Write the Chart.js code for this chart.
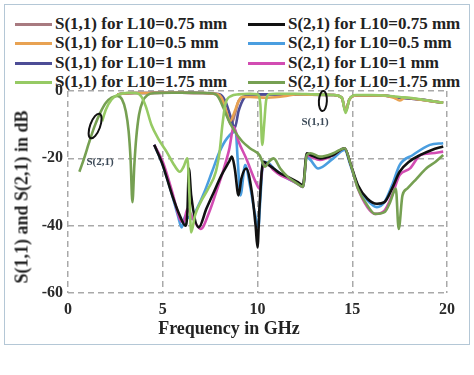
<!DOCTYPE html>
<html>
<head>
<meta charset="utf-8">
<script src="https://cdn.jsdelivr.net/npm/chart.js@4.4.1/dist/chart.umd.min.js"></script>
<style>
  html, body { margin:0; padding:0; background:#fff; }
  #wrap { position:relative; width:474px; height:375px; background:#fff; overflow:hidden;
          font-family:"Liberation Serif","Times New Roman",serif; font-weight:bold; color:#222; }
  #frame { position:absolute; left:4px; top:4px; width:464px; height:339px; border:1.5px solid #b4c7d6; }
  #legend { position:absolute; left:0; top:0; width:474px; height:95px; }
  .lg-item { position:absolute; height:20px; font-size:17px; line-height:20px; white-space:nowrap; }
  .lg-line { position:absolute; top:9px; width:37px; height:3px; }
  .lg-text { position:absolute; top:0; }
  #c { position:absolute; left:0; top:0; }
  .title { position:absolute; font-size:18px; white-space:nowrap; }
  .note { position:absolute; font-size:11px; color:#3c4a58; white-space:nowrap; }
</style>
</head>
<body>
<div id="wrap">
  <div id="frame"></div>
  <div id="legend"></div>
  <canvas id="c" width="474" height="375"></canvas>
  <div class="title" style="left:229px;top:318px;transform:translateX(-50%)">Frequency in GHz</div>
  <div class="title" style="left:22px;top:197px;transform:translate(-50%,-50%) rotate(-90deg)">S(1,1) and S(2,1) in dB</div>
  <div class="note" style="left:100px;top:161px;transform:translate(-50%,-50%)">S(2,1)</div>
  <div class="note" style="left:315px;top:121px;transform:translate(-50%,-50%)">S(1,1)</div>
</div>
<script>
'use strict';
// ── S-parameters vs frequency for several L10 values ──────────────

const xTicks = [0, 5, 10, 15, 20];
const yTicks = [0, -20, -40, -60];

// S(1,1), L10 = 1.75 mm
const s11_175_f  = [1.8, 2.0, 2.3, 2.6, 2.9, 3.2, 3.6, 3.85, 4.1, 4.4, 4.8, 5.2, 5.6, 5.9, 6.1, 6.3, 6.4, 6.5, 6.7, 7.0, 7.4, 7.8, 8.0, 8.15, 8.3, 8.6, 9.0, 9.6, 10.0, 10.15, 10.25, 10.35, 10.45, 10.6, 11.0, 12.0, 13.0, 14.0, 14.45, 14.65, 14.85, 15.2, 16.0, 17.0, 17.5, 18.0, 19.0, 19.8];
const s11_175_db = [-9, -5.5, -2.5, -1.2, -0.7, -0.5, -0.6, -1.5, -4.5, -10, -14.5, -18, -22, -24, -22.5, -20, -30, -42, -37, -33, -29, -24, -18, -10, -4, -1.5, -1, -0.8, -1, -4, -16, -10, -3, -1, -0.8, -0.8, -1, -1.2, -2, -6.5, -2.5, -1.2, -1.2, -1.5, -1.8, -2, -2.8, -3.5];

// S(2,1), L10 = 1.75 mm
const s21_175_f  = [0.6, 0.85, 1.1, 1.4, 1.7, 2.0, 2.3, 2.6, 2.85, 3.05, 3.2, 3.3, 3.4, 3.5, 3.6, 3.75, 3.95, 4.2, 4.6, 5.5, 6.5, 7.3, 7.8, 8.0, 8.2, 8.5, 8.8, 9.2, 9.6, 10.1, 10.4, 10.6, 10.85, 11.2, 11.6, 12.1, 12.4, 12.6, 12.8, 13.3, 14.0, 14.6, 14.9, 15.3, 15.8, 16.2, 16.7, 17.0, 17.3, 17.45, 17.65, 17.9, 18.4, 18.9, 19.4, 19.8];
const s21_175_db = [-24, -20, -15.5, -10.5, -6.5, -3.5, -2, -1.5, -2.5, -6, -12, -20, -33, -22, -14, -7, -3, -1.2, -0.6, -0.5, -0.5, -0.6, -1, -2.5, -5, -9, -12, -15, -17, -19, -22.5, -21, -20, -23, -25.5, -27.5, -28.5, -19, -18.5, -19.5, -18.5, -17, -21.5, -29, -34, -36.5, -36, -33, -29, -41, -31, -29, -26, -23, -21, -19];

// S(2,1), L10 = 0.75 mm
const s21_075_f  = [4.55, 5.0, 5.5, 5.9, 6.2, 6.3, 6.38, 6.5, 6.9, 7.3, 7.7, 8.1, 8.5, 8.65, 8.8, 9.0, 9.15, 9.4, 9.7, 9.9, 10.0, 10.1, 10.3, 10.6, 10.85, 11.2, 11.6, 12.1, 12.4, 12.6, 12.8, 13.3, 14.0, 14.6, 14.9, 15.3, 15.8, 16.3, 16.7, 17.1, 17.5, 18.0, 18.6, 19.2, 19.8];
const s21_075_db = [-16, -22, -31, -37, -40, -36, -23, -31, -40.5, -35, -30, -25, -21, -19.5, -23, -31, -26, -23, -30, -40, -46.5, -35, -21, -22, -23, -24.5, -25.5, -27, -28, -18.5, -19, -20, -19, -17, -21.5, -28, -32, -33.5, -33, -29, -24, -21, -19, -17.5, -16.5];

// S(2,1), L10 = 0.5 mm
const s21_05_f  = [4.55, 5.0, 5.5, 5.8, 6.0, 6.2, 6.5, 6.8, 7.2, 7.6, 8.0, 8.4, 8.85, 8.95, 9.1, 9.35, 9.6, 9.85, 10.05, 10.15, 10.3, 10.6, 10.85, 11.2, 11.6, 12.1, 12.4, 12.6, 12.8, 13.2, 14.0, 14.6, 14.9, 15.3, 15.8, 16.3, 16.7, 17.1, 17.5, 18.2, 19.1, 19.8];
const s21_05_db = [-16, -22, -31, -37, -40.5, -37, -38, -35, -30, -24, -18, -14, -12, -20, -31, -22, -28, -36, -40.5, -32, -21, -21.5, -23, -24.5, -26, -27.5, -28.5, -19.5, -20.5, -23, -20, -17.5, -22, -28.5, -32.5, -34.5, -33, -28, -22, -19, -16, -15.5];

// S(2,1), L10 = 1 mm
const s21_1_f  = [4.55, 5.0, 5.5, 5.9, 6.1, 6.3, 6.6, 7.0, 7.45, 7.85, 8.2, 8.5, 8.75, 9.0, 9.4, 9.9, 10.1, 10.3, 10.6, 10.85, 11.2, 11.6, 12.1, 12.4, 12.6, 12.8, 13.3, 14.0, 14.6, 14.9, 15.3, 15.8, 16.2, 16.7, 17.1, 17.5, 18.05, 18.6, 19.2, 19.8];
const s21_1_db = [-16, -21, -30, -38, -39, -35, -38, -41, -36, -29.5, -23.5, -17.5, -10.7, -15, -20, -27, -29, -22, -22, -23.5, -25, -26, -27.5, -28.5, -19, -19.5, -20.5, -19, -17, -21.5, -29, -34.5, -36.5, -35.5, -31, -25, -23, -19, -18.5, -18];

// S(1,1), L10 = 0.75 mm
const s11_075_f  = [2.6, 3.0, 3.5, 4.0, 5.0, 6.0, 7.0, 7.8, 8.1, 8.4, 8.6, 8.8, 9.0, 9.3, 9.6, 10.5, 12, 14, 14.45, 14.65, 14.85, 15.2, 16.5, 17.5, 18.5, 19.8];
const s11_075_db = [-1, -0.7, -0.6, -0.6, -0.5, -0.5, -0.6, -1, -3, -7, -10, -7, -3, -1.5, -1, -1, -1, -1.2, -2, -6, -2.5, -1.3, -1.3, -2, -2.5, -3.5];

// S(1,1), L10 = 0.5 mm
const s11_05_f  = [2.6, 3.0, 3.5, 4.0, 5.0, 6.0, 7.0, 7.9, 8.1, 8.3, 8.55, 8.8, 9.0, 9.2, 9.6, 10.5, 11.5, 12, 14, 14.45, 14.65, 14.85, 15.2, 16.5, 17.2, 17.5, 17.8, 18.5, 19.8];
const s11_05_db = [-1, -0.7, -0.6, -0.6, -0.5, -0.5, -0.6, -1, -2, -5, -9, -6, -3, -1.8, -1.8, -2, -1.5, -1, -1.2, -2, -6, -2.5, -1.3, -1.3, -2, -2.8, -2, -2.5, -3.5];

// S(1,1), L10 = 1 mm
const s11_1_f  = [2.6, 3.0, 3.5, 4.0, 5.0, 6.0, 7.0, 8.0, 8.3, 8.6, 8.8, 9.0, 9.3, 9.6, 10.5, 12, 14, 14.45, 14.65, 14.85, 15.2, 16.5, 17.5, 18.5, 19.8];
const s11_1_db = [-1, -0.7, -0.6, -0.6, -0.5, -0.5, -0.6, -1, -3, -8, -11, -6, -2, -1, -1, -1, -1.2, -2, -6, -2.5, -1.3, -1.3, -2, -2.5, -3.5];

// ellipse call-outs (centre in data units)
const callouts = [
  { f: 1.43,  db: -10.4, rx: 5, ry: 13, rot: 0.35 },
  { f: 13.45, db: -3,    rx: 4, ry: 10, rot: 0.05 },
];

const pts = (fs, ds) => fs.map((f, i) => ({ x: f, y: ds[i] }));

// legend order (row by row, two columns)
const series = [
  { label:'S(1,1) for L10=0.75 mm', color:'#a87a80', data: pts(s11_075_f, s11_075_db), z: 7 },
  { label:'S(2,1) for L10=0.75 mm', color:'#111111', data: pts(s21_075_f, s21_075_db), z: 2 },
  { label:'S(1,1) for L10=0.5 mm',  color:'#e8a252', data: pts(s11_05_f,  s11_05_db),  z: 5 },
  { label:'S(2,1) for L10=0.5 mm',  color:'#4a9ee0', data: pts(s21_05_f,  s21_05_db),  z: 4 },
  { label:'S(1,1) for L10=1 mm',    color:'#4d4d96', data: pts(s11_1_f,   s11_1_db),   z: 6 },
  { label:'S(2,1) for L10=1 mm',    color:'#d24cb2', data: pts(s21_1_f,   s21_1_db),   z: 3 },
  { label:'S(1,1) for L10=1.75 mm', color:'#96ca64', data: pts(s11_175_f, s11_175_db), z: 0 },
  { label:'S(2,1) for L10=1.75 mm', color:'#76a052', data: pts(s21_175_f, s21_175_db), z: 1 },
];

// ── Legend ─────────────────────────────────────────────
const legendEl = document.getElementById('legend');
series.forEach((s, i) => {
  const col = i % 2, row = Math.floor(i / 2);
  const item = document.createElement('div');
  item.className = 'lg-item';
  item.style.left = (col ? 248 : 15) + 'px';
  item.style.top  = (14 + row * 19.4) + 'px';
  item.innerHTML = `<span class="lg-line" style="left:0;background:${s.color}"></span>` +
                   `<span class="lg-text" style="left:40px">${s.label}</span>`;
  legendEl.appendChild(item);
});

// ── Callout ellipses ─────────────────────────────────────
const calloutPlugin = {
  id: 'callouts',
  afterDatasetsDraw(chart) {
    const { ctx, scales: { x, y } } = chart;
    ctx.save();
    ctx.strokeStyle = '#111';
    ctx.lineWidth = 2;
    callouts.forEach(c => {
      ctx.beginPath();
      ctx.ellipse(x.getPixelForValue(c.f), y.getPixelForValue(c.db), c.rx, c.ry, c.rot, 0, Math.PI * 2);
      ctx.stroke();
    });
    ctx.restore();
  },
};

const tickFont = { family:'"Liberation Serif", "Times New Roman", serif', size:16, weight:'bold' };

new Chart(document.getElementById('c'), {
  type: 'line',
  data: {
    datasets: series.map(s => ({
      label: s.label,
      data: s.data,
      borderColor: s.color,
      backgroundColor: s.color,
      borderWidth: 2.6,
      pointRadius: 0,
      cubicInterpolationMode: 'monotone',
      fill: false,
      order: s.z,
    })),
  },
  options: {
    responsive: false,
    animation: false,
    devicePixelRatio: 1,
    layout: { padding: { left:0, right:27, top:91, bottom:0 } },
    plugins: { legend: { display:false }, tooltip: { enabled:false } },
    scales: {
      x: {
        type: 'linear', min: 0, max: 20,
        afterBuildTicks: sc => { sc.ticks = xTicks.map(v => ({ value: v })); },
        afterFit: sc => { sc.height = 82; },
        ticks: { font: tickFont, color:'#2a2a2a', padding: 7, maxRotation: 0 },
        grid: { color:'#a9a9a9', lineWidth: 1.5, drawTicks: false },
        border: { display: false, dash: [6, 4] },
      },
      y: {
        type: 'linear', min: -60, max: 0,
        afterBuildTicks: sc => { sc.ticks = yTicks.map(v => ({ value: v })); },
        afterFit: sc => { sc.width = 68; },
        ticks: { font: tickFont, color:'#2a2a2a', padding: 5 },
        grid: { color:'#a9a9a9', lineWidth: 1.5, drawTicks: false },
        border: { display: false, dash: [6, 4] },
      },
    },
  },
  plugins: [calloutPlugin],
});
</script>
</body>
</html>
